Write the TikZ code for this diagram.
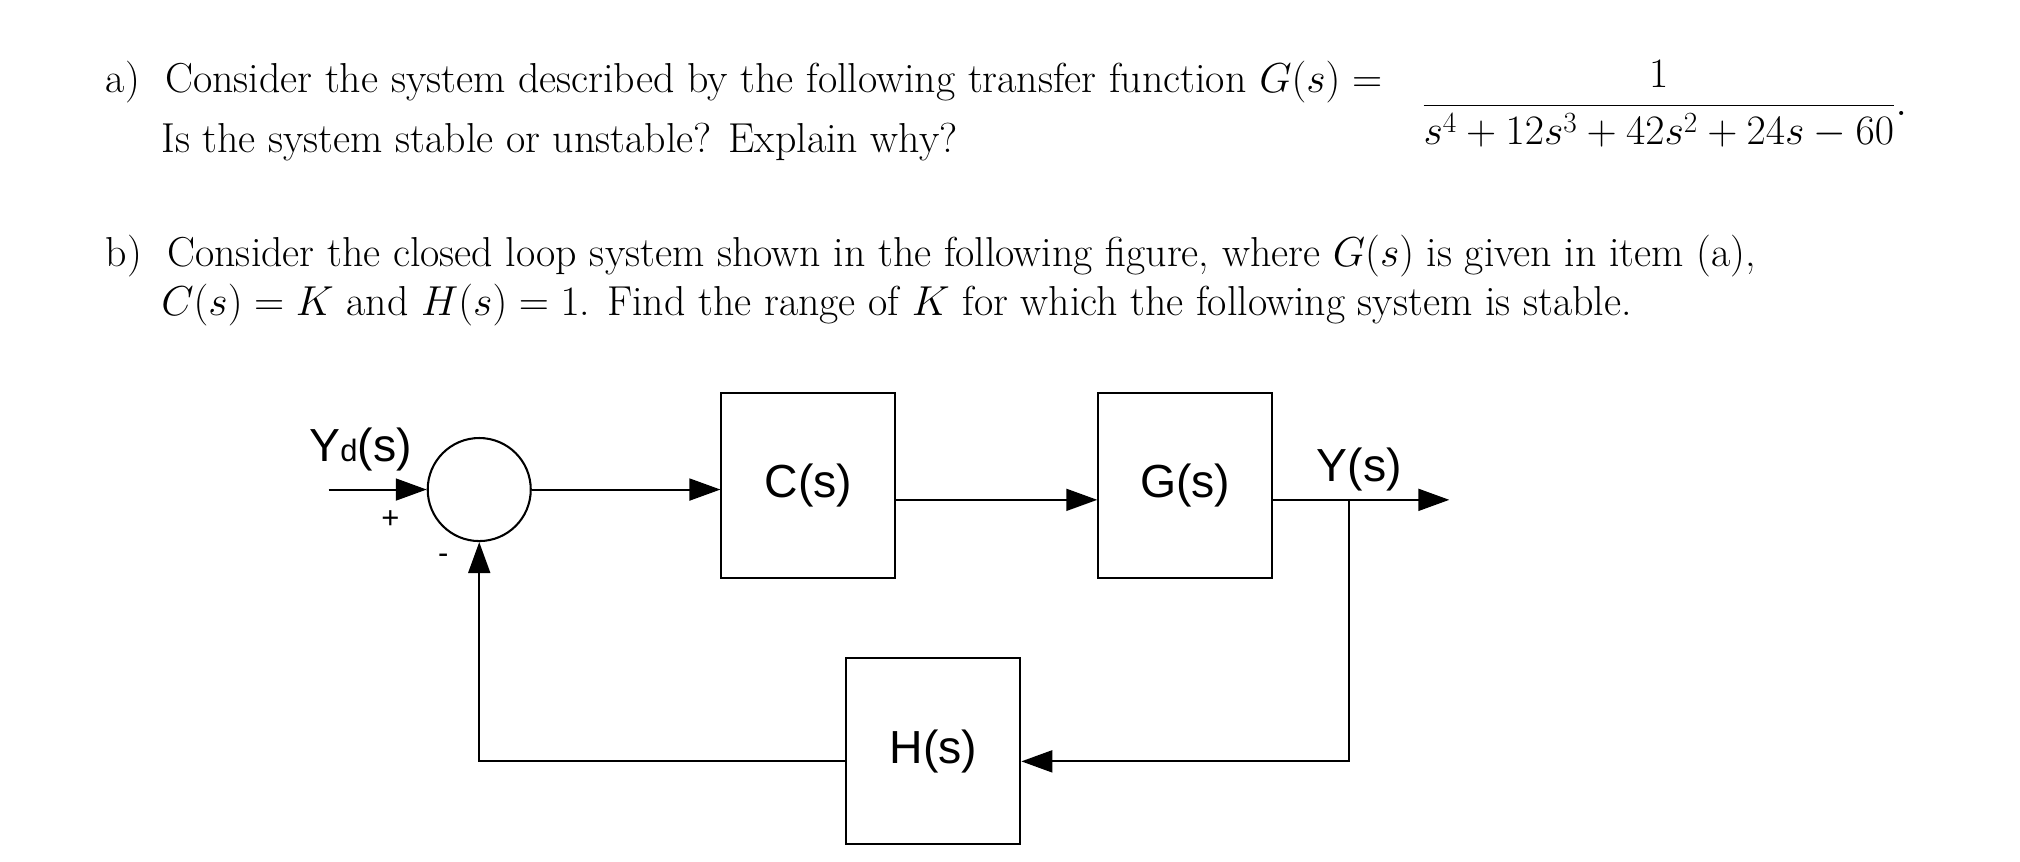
\RequirePackage{fix-cm}
\documentclass[tikz,border=0pt]{standalone}
\usepackage{amsmath}
\usepackage{fontspec}
\newfontfamily\diag{Liberation Sans}
\usetikzlibrary{arrows.meta}
\begin{document}
\begin{tikzpicture}[x=1pt,y=-1pt,
  txt/.style={anchor=base west,inner sep=0pt,font=\fontsize{32.5}{38}\selectfont},
  blk/.style={draw,line width=1.6pt,minimum width=135pt,minimum height=144pt,inner sep=0pt,font=\diag\fontsize{36}{40}\selectfont},
  lbl/.style={inner sep=0pt,font=\diag\fontsize{36}{40}\selectfont},
  sig/.style={line width=1.6pt},
  arr/.style={sig,-{Triangle[length=24pt,width=17pt]}}]
\useasboundingbox (0,0) rectangle (1568,669);
\node[txt] (la) at (82,72) {a)\ \ Consider the system described by the following transfer function $G(s)=$};
\node[txt,anchor=base] (fr) at (1292,90) {$\dfrac{1}{s^4+12s^3+42s^2+24s-60}.$};
\node[txt] (la2) at (125,118) {Is the system stable or unstable? Explain why?};
\node[txt] (lb) at (82,207) {b)\ \ Consider the closed loop system shown in the following figure, where $G(s)$ is given in item (a),};
\node[txt] (lb2) at (125,245) {$C(s)=K$ and $H(s)=1$. Find the range of $K$ for which the following system is stable.};
\node[draw,circle,line width=1.6pt,minimum size=80pt,inner sep=0pt] (sum) at (372,380) {};
\node[blk] (C) at (627.5,377) {C(s)};
\node[blk] (G) at (920,377) {G(s)};
\node[blk] (H) at (724.5,583) {H(s)};
\coordinate (in) at (255,380);
\coordinate (out) at (1125,388);
\coordinate (br) at (1047,388);
\coordinate (bc) at (1047,591);
\coordinate (lc) at (372,591);
\node[lbl,anchor=base west] (yd) at (240,358) {Y{\fontsize{24}{28}\selectfont d}(s)};
\node[lbl,anchor=base] (ys) at (1055,374) {Y(s)};
\node[inner sep=0pt,font=\diag\fontsize{24}{28}\selectfont] (plus) at (303,403) {+};
\node[inner sep=0pt,font=\diag\fontsize{24}{28}\selectfont] (minus) at (344,434) {-};
\draw[arr] (in) -- (sum.west);
\draw[arr] (sum.east) -- (C.west |- sum.east);
\draw[arr] (C.east |- br) -- (G.west |- br);
\draw[arr] (G.east |- br) -- (out);
\draw[arr] (br) -- (bc) -- (H.east |- bc);
\draw[arr] (H.west |- lc) -- (lc) -- (sum.south);
\end{tikzpicture}
\end{document}
